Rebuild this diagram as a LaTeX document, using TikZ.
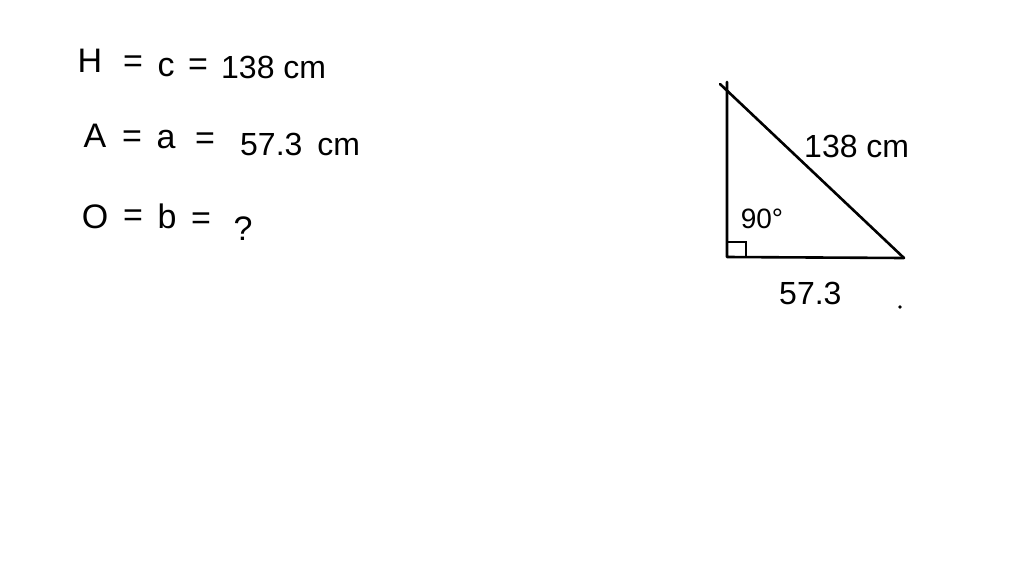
\documentclass[tikz,border=0pt]{standalone}
\usepackage{fontspec}
\setmainfont{Liberation Sans}
\begin{document}
\begin{tikzpicture}[x=1pt,y=-1pt,
  hw/.style={inner sep=0pt, anchor=base, font=\fontsize{34}{38}\selectfont},
  hwl/.style={hw, anchor=base west, font=\fontsize{32}{36}\selectfont},
  ln/.style={line width=2.6pt, line cap=round, line join=round}]
\useasboundingbox[fill=white] (0,0) rectangle (1024,576);
% left column
\node[hw] (h)  at (90,72) {H};
\node[hw] (e1) at (133,72) {=};
\node[hw] (c)  at (166,76) {c};
\node[hw] (e2) at (198,75) {=};
\node[hwl] (n1) at (221,78) {138 cm};
\node[hw] (a)  at (95,147) {A};
\node[hw] (e3) at (132,147) {=};
\node[hw] (al) at (166,148) {a};
\node[hw] (e4) at (205,149) {=};
\node[hwl] (n2) at (240,155) {57.3\hspace{6pt} cm};
\node[hw] (o)  at (95,228) {O};
\node[hw] (e5) at (133,226) {=};
\node[hw] (b)  at (167,228) {b};
\node[hw] (e6) at (201,229) {=};
\node[hw] (q)  at (243,240) {?};
% triangle
\coordinate (T) at (727,82);
\coordinate (B) at (727,257);
\coordinate (R) at (904,258);
\coordinate (HT) at (720,84);
\coordinate (S1) at (727,242);
\coordinate (S2) at (746,242);
\coordinate (S3) at (746,257);
\draw[ln] (T) -- (B) -- (R);
\draw[ln] (HT) -- (R);
\draw[line width=2pt] (S1) -- (S2) -- (S3);
\node[hwl] (hyp) at (804,157) {138 cm};
\node[hw, font=\fontsize{28}{32}\selectfont] (ang) at (762,228) {90°};
\node[hwl] (base) at (779,304) {57.3};
\fill (900,307) circle (1.8pt);
\end{tikzpicture}
\end{document}
